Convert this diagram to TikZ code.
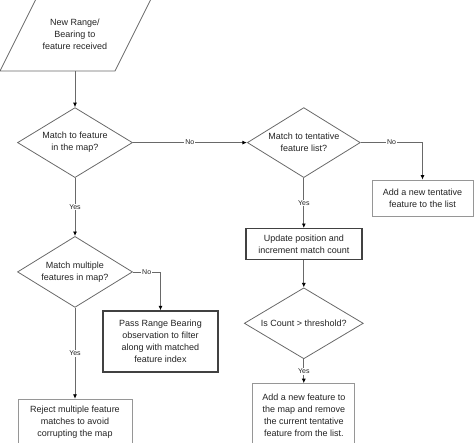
\documentclass[tikz,border=0pt]{standalone}
\usepackage{fontspec}
\setmainfont{Liberation Sans}
\usetikzlibrary{positioning, shapes.geometric, arrows.meta}
\definecolor{lineagrigia}{RGB}{105,105,105}
\definecolor{bordoscuro}{RGB}{65,65,65}
\definecolor{bordochiaro}{RGB}{150,150,150}
\definecolor{testo}{RGB}{35,35,35}
\begin{document}
\begin{tikzpicture}[x=1pt, y=-1pt, font=\fontsize{9}{12}\selectfont, text=testo,
	decisione/.style={diamond, draw=lineagrigia, line width=0.8pt, aspect=1.6, inner sep=0pt, minimum width=115pt, minimum height=70pt, align=center},
	processo/.style={rectangle, draw=bordoscuro, line width=1.4pt, inner sep=0pt, align=center},
	esito/.style={rectangle, draw=bordochiaro, line width=0.8pt, inner sep=0pt, align=center},
	freccia/.style={draw=lineagrigia, line width=0.8pt, -{Latex[length=4.5pt, width=4pt, color=black]}},
	etichetta/.style={fill=white, text=testo, font=\fontsize{7}{8}\selectfont, inner sep=1pt}]
					\useasboundingbox (0,0) rectangle (474,442);
					\clip (0,0) rectangle (474,442);
					
					% Ingresso (parallelogramma)
					\node[rectangle, inner sep=0pt, minimum width=78pt, minimum height=74pt, align=center] (ingresso) at (75,34) {New Range/\\Bearing to\\feature received};
					\draw[draw=lineagrigia, line width=0.8pt] (0,71) -- (115,71) -- (152,-3) -- (37,-3) -- cycle;
					
					% Decisioni
					\node[decisione, below=36pt of ingresso] (mappa) {Match to feature\\in the map?};
					\node[decisione, right=114pt of mappa, minimum width=113pt] (tentativa) {Match to tentative\\feature list?};
					\node[decisione, below=58pt of mappa, minimum height=71pt] (multiple) {Match multiple\\features in map?};
					
					% Ramo tentativo
					\node[esito, minimum width=101pt, minimum height=36pt] (nuovatent) at (422.5,198) {Add a new tentative\\feature to the list};
					\node[processo, below=50pt of tentativa, minimum width=116pt, minimum height=31pt] (aggiorna) {Update position and\\increment match count};
					\node[decisione, below=27pt of aggiorna, minimum width=119pt, minimum height=71pt] (soglia) {Is Count > threshold?};
					\node[esito, below=24pt of soglia, minimum width=102pt, minimum height=64pt] (nuova) {Add a new feature to\\the map and remove\\the current tentative\\feature from the list.};
					
					% Ramo mappa
					\node[processo, minimum width=115pt, minimum height=61pt] (passa) at (160.5,341.5) {Pass Range Bearing\\observation to filter\\along with matched\\feature index};
					\node[esito, below=91pt of multiple, minimum width=114pt, minimum height=46pt] (rifiuta) {Reject multiple feature\\matches to avoid\\corrupting the map};
					
					% Connessioni
					\draw[freccia] (ingresso) -- (mappa);
					\draw[freccia] (mappa) -- node[etichetta] {No} (tentativa);
					\draw[freccia] (tentativa.east) -| node[etichetta, pos=0.25] {No} (nuovatent.north);
					\draw[freccia] (tentativa) -- node[etichetta] {Yes} (aggiorna);
					\draw[freccia] (aggiorna) -- (soglia);
					\draw[freccia] (soglia) -- node[etichetta] {Yes} (nuova);
					\draw[freccia] (mappa) -- node[etichetta] {Yes} (multiple);
					\draw[freccia] (multiple.east) -| node[etichetta, pos=0.25] {No} (passa.north);
					\draw[freccia] (multiple) -- node[etichetta] {Yes} (rifiuta);
				\end{tikzpicture}
\end{document}
